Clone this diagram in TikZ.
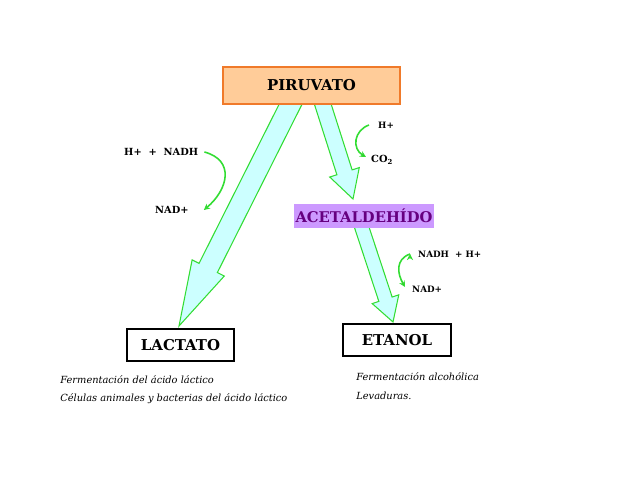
\documentclass[tikz,border=0pt]{standalone}
\usepackage{fontspec}
\setmainfont{DejaVu Serif}
\usetikzlibrary{calc,arrows.meta}

\definecolor{peach}{HTML}{FFCC99}
\definecolor{orangeline}{HTML}{F07A2A}
\definecolor{lilac}{HTML}{CC99FF}
\definecolor{plum}{HTML}{660080}
\definecolor{arrowfill}{HTML}{CCFFFF}
\definecolor{arrowline}{HTML}{33DD33}

\newcommand{\fatarrow}[5]{%
  \coordinate (hb) at ($(#2)!#5!(#1)$);
  \filldraw[fat arrow] ($(#1)!#3!90:(#2)$) -- ($(hb)!#3!90:(#2)$) -- ($(hb)!#4!90:(#2)$) -- (#2)
    -- ($(hb)!#4!-90:(#2)$) -- ($(hb)!#3!-90:(#2)$) -- ($(#1)!#3!-90:(#2)$) -- cycle;}

\begin{document}
\begin{tikzpicture}[x=0.02cm,y=0.02cm,
  box node/.style={inner sep=0pt,font=\bfseries\fontsize{8.5}{10}\selectfont},
  label node/.style={inner sep=0.5pt,anchor=west,font=\bfseries\fontsize{5.6}{7}\selectfont},
  small label/.style={label node,font=\bfseries\fontsize{5}{6}\selectfont},
  note node/.style={inner sep=0pt,anchor=west,font=\itshape\fontsize{5.6}{6}\selectfont},
  fat arrow/.style={draw=arrowline,fill=arrowfill,line width=0.6pt,line join=miter},
  curve arrow/.style={draw=arrowline,line width=0.9pt,-{Stealth[length=3.5pt,width=3.5pt]}}]

\useasboundingbox (0,0) rectangle (638,479);

\node[box node] (piruvato) at (311.5,393.5) {\phantom{PIRUVATO}};
\node[box node] (acetal) at (364,263) {\phantom{ACETALDEHÍDO}};
\node[box node] (etanol) at (397,139) {\phantom{ETANOL}};
\node[box node] (lactato) at (180.5,134) {\phantom{LACTATO}};

\coordinate (p1) at ($(piruvato)+(-16.5,-10)$);
\coordinate (p2) at ($(piruvato)+(8.5,-10)$);
\coordinate (a1) at ($(acetal)+(-4,-6)$);
\coordinate (l0) at ($(lactato)+(-1.5,19)$);
\coordinate (a0) at ($(acetal)+(-11,17)$);
\coordinate (e0) at ($(etanol)+(-4,18)$);

\fatarrow{p1}{l0}{0.205cm}{0.36cm}{1.3cm}
\fatarrow{p2}{a0}{0.16cm}{0.31cm}{0.56cm}
\fatarrow{a1}{e0}{0.14cm}{0.28cm}{0.48cm}

\node[box node,draw=orangeline,fill=peach,line width=1.5pt,minimum width=3.54cm,minimum height=0.74cm] at (piruvato) {PIRUVATO};
\node[box node,fill=lilac,text=plum,minimum width=2.8cm,minimum height=0.48cm,font=\bfseries\fontsize{8.4}{10}\selectfont] at (acetal) {ACETALDEHÍDO};
\node[box node,draw=black,fill=white,line width=1.6pt,minimum width=2.16cm,minimum height=0.64cm] at (etanol) {ETANOL};
\node[box node,draw=black,fill=white,line width=1.6pt,minimum width=2.14cm,minimum height=0.64cm] at (lactato) {LACTATO};

\node[label node] (hnadh) at (123,327) {H+\ \ +\ \ NADH};
\node[label node] (nadl) at (154,269) {NAD+};
\node[small label] (hplus) at (377,354) {H+};
\node[label node] (co2) at (370,319) {CO\textsubscript{2}};
\node[small label] (nadhh) at (417,225) {NADH\ \ + H+};
\node[small label] (nadr) at (411,190) {NAD+};

\node[note node] (n1) at (60,99) {Fermentación del ácido láctico};
\node[note node] (n2) at (60,80) {Células animales y bacterias del ácido láctico};
\node[note node] (n3) at (356,102) {Fermentación alcohólica};
\node[note node] (n4) at (356,83) {Levaduras.};

\path ($(hnadh.east)+(5,0)$) [curve arrow] edge [out=-15,in=40,looseness=1.4] ($(nadl.east)+(14,0)$)
($(hplus.west)+(-8,0)$) [curve arrow] edge [out=200,in=150,looseness=1.3] ($(co2.west)+(-4,3)$)
($(nadhh.west)+(-7,0)$) [curve arrow] edge [out=200,in=120,looseness=1.2] ($(nadr.west)+(-6,2)$);

\end{tikzpicture}
\end{document}
